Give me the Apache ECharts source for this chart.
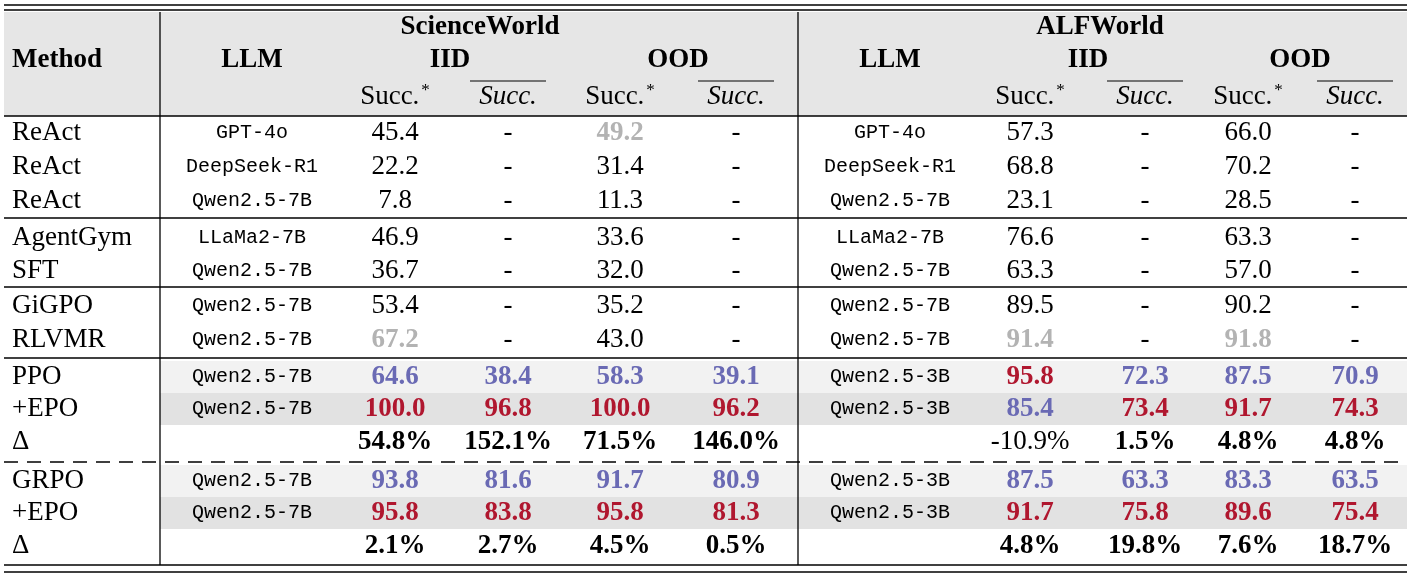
<!DOCTYPE html>
<html><head><meta charset="utf-8">
<script src="https://cdn.jsdelivr.net/npm/echarts@6/dist/echarts.min.js"></script>
<style>html,body{margin:0;background:#fff}#c{width:1411px;height:579px}</style>
</head><body><div id="c"></div>
<script>
// table data
const methods = ['ReAct', 'ReAct', 'ReAct', 'AgentGym', 'SFT', 'GiGPO', 'RLVMR', 'PPO', '+EPO', 'Δ', 'GRPO', '+EPO', 'Δ'];
const llmSW = ['GPT-4o', 'DeepSeek-R1', 'Qwen2.5-7B', 'LLaMa2-7B', 'Qwen2.5-7B', 'Qwen2.5-7B', 'Qwen2.5-7B', 'Qwen2.5-7B', 'Qwen2.5-7B', '', 'Qwen2.5-7B', 'Qwen2.5-7B', ''];
const llmALF = ['GPT-4o', 'DeepSeek-R1', 'Qwen2.5-7B', 'LLaMa2-7B', 'Qwen2.5-7B', 'Qwen2.5-7B', 'Qwen2.5-7B', 'Qwen2.5-3B', 'Qwen2.5-3B', '', 'Qwen2.5-3B', 'Qwen2.5-3B', ''];
const swIID = ['45.4', '22.2', '7.8', '46.9', '36.7', '53.4', '67.2', '64.6', '100.0', '54.8%', '93.8', '95.8', '2.1%'];
const swIIDbar = ['-', '-', '-', '-', '-', '-', '-', '38.4', '96.8', '152.1%', '81.6', '83.8', '2.7%'];
const swOOD = ['49.2', '31.4', '11.3', '33.6', '32.0', '35.2', '43.0', '58.3', '100.0', '71.5%', '91.7', '95.8', '4.5%'];
const swOODbar = ['-', '-', '-', '-', '-', '-', '-', '39.1', '96.2', '146.0%', '80.9', '81.3', '0.5%'];
const alfIID = ['57.3', '68.8', '23.1', '76.6', '63.3', '89.5', '91.4', '95.8', '85.4', '-10.9%', '87.5', '91.7', '4.8%'];
const alfIIDbar = ['-', '-', '-', '-', '-', '-', '-', '72.3', '73.4', '1.5%', '63.3', '75.8', '19.8%'];
const alfOOD = ['66.0', '70.2', '28.5', '63.3', '57.0', '90.2', '91.8', '87.5', '91.7', '4.8%', '83.3', '89.6', '7.6%'];
const alfOODbar = ['-', '-', '-', '-', '-', '-', '-', '70.9', '74.3', '4.8%', '63.5', '75.4', '18.7%'];

// cell styles: n normal, g gray bold, b blue bold, r red bold, k black bold
const cellStyle = [
  'nngnnnnn', 'nnnnnnnn', 'nnnnnnnn', 'nnnnnnnn', 'nnnnnnnn', 'nnnnnnnn',
  'gnnngngn', 'bbbbrbbb', 'rrrrbrrr', 'kkkknkkk', 'bbbbbbbb', 'rrrrrrrr', 'kkkkkkkk'
];
const styleColor = {n: '#000', g: '#b3b3b3', b: '#6a6ab4', r: '#b0172f', k: '#000'};

const chart = echarts.init(document.getElementById('c'));
const serif = '"Liberation Serif", "DejaVu Serif", serif';
const mono = '"Liberation Mono", "DejaVu Sans Mono", monospace';
const L = 4, R = 1407, V1 = 160, V2 = 798;
const rowY = [133, 167, 201, 238, 271, 306, 340, 377, 409, 442, 481, 513, 546];
const valCols = [395, 508, 620, 736, 1030, 1145, 1248, 1355];
const valData = [swIID, swIIDbar, swOOD, swOODbar, alfIID, alfIIDbar, alfOOD, alfOODbar];
const g = [];
const txt = (x, y, s, o = {}) => g.push({type: 'text', x, y, style: Object.assign({text: s, font: '27px ' + serif, fill: '#000', align: 'center', verticalAlign: 'middle'}, o)});
const hline = (y, x1 = L, x2 = R, w = 1.3, dash) => g.push({type: 'line', shape: {x1, y1: y, x2, y2: y}, style: {stroke: '#000', lineWidth: w, lineDash: dash}});
const vline = (x, y1, y2) => g.push({type: 'line', shape: {x1: x, y1, x2: x, y2}, style: {stroke: '#000', lineWidth: 1.3}});

// backgrounds
g.push({type: 'rect', shape: {x: L, y: 12, width: R - L, height: 104}, style: {fill: '#e6e6e6'}});
[[7, '#f2f2f2'], [8, '#e2e2e2'], [10, '#f2f2f2'], [11, '#e2e2e2']].forEach(([r, c]) =>
  g.push({type: 'rect', shape: {x: V1, y: rowY[r] - 16, width: R - V1, height: 32}, style: {fill: c}}));

// rules
hline(5); hline(10); hline(116);
hline(218); hline(287); hline(358);
hline(462, L, R, 1.3, [14, 9]);
hline(565); hline(572);
vline(V1, 12, 565); vline(V2, 12, 565);

// header
txt(480, 27, 'ScienceWorld', {font: 'bold 27px ' + serif});
txt(1100, 27, 'ALFWorld', {font: 'bold 27px ' + serif});
txt(12, 60, 'Method', {font: 'bold 27px ' + serif, align: 'left'});
txt(252, 60, 'LLM', {font: 'bold 27px ' + serif});
txt(890, 60, 'LLM', {font: 'bold 27px ' + serif});
[[450, 'IID'], [678, 'OOD'], [1088, 'IID'], [1300, 'OOD']].forEach(([x, s]) => txt(x, 60, s, {font: 'bold 27px ' + serif}));
valCols.forEach((x, i) => {
  if (i % 2 === 0) {
    g.push({type: 'text', x, y: 97, style: {text: '{a|Succ.}{s|*}', align: 'center', verticalAlign: 'middle',
      rich: {a: {font: '27px ' + serif, fill: '#000'}, s: {font: '17px ' + serif, fill: '#000', verticalAlign: 'top', padding: [0, 0, 12, 2]}}}});
  } else {
    txt(x, 97, 'Succ.', {font: 'italic 27px ' + serif});
    hline(81, x - 38, x + 38, 1.2);
  }
});

// body
methods.forEach((m, r) => {
  const y = rowY[r];
  txt(12, y, m, {align: 'left'});
  txt(252, y, llmSW[r], {font: '20px ' + mono});
  txt(890, y, llmALF[r], {font: '20px ' + mono});
  valData.forEach((col, c) => {
    const st = cellStyle[r][c];
    txt(valCols[c], y, col[r], {fill: styleColor[st], font: (st === 'n' ? '' : 'bold ') + '27px ' + serif});
  });
});

chart.setOption({animation: false, graphic: {elements: g}});
</script></body></html>
